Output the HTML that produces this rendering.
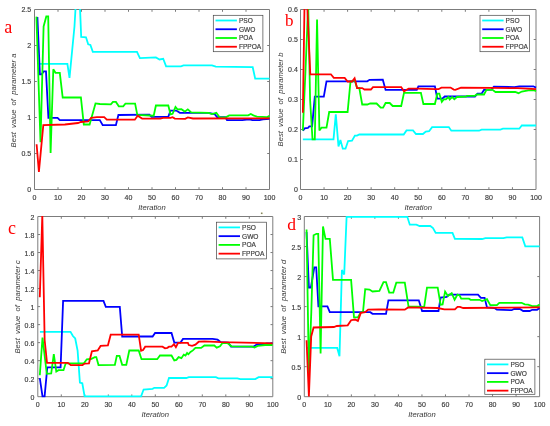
<!DOCTYPE html>
<html><head><meta charset="utf-8"><title>Parameter convergence</title>
<style>
html,body{margin:0;padding:0;background:#fff}
svg{display:block}
.t{font-family:"Liberation Sans",Arial,Helvetica,sans-serif;font-size:7px;fill:#3a3a3a;stroke:#3a3a3a;stroke-width:0.15}
.g{font-family:"Liberation Sans",Arial,Helvetica,sans-serif;font-size:6.6px;fill:#3a3a3a;stroke:#3a3a3a;stroke-width:0.15}
.l{font-family:"Liberation Sans",Arial,Helvetica,sans-serif;font-size:7.65px;font-style:italic;fill:#3a3a3a;white-space:pre}
.p{font-family:"Liberation Serif","Times New Roman",serif;font-size:18px;fill:#ff0000}
.d{fill:none;stroke-width:1.8;stroke-linejoin:miter;stroke-miterlimit:3;stroke-linecap:butt}
.ax{stroke:#7c7c7c;stroke-width:1;fill:none}
</style></head><body>
<svg width="550" height="426" viewBox="0 0 550 426">
<rect width="550" height="426" fill="#fff"/>
<g id="panel-a">
<clipPath id="cp-a"><rect x="34" y="9.1" width="236.5" height="181.4"/></clipPath>
<path class="ax" d="M34.5 9.5H269.5V189.5H34.5ZM58 189.5v-2.3M58 9.5v2.3M81.5 189.5v-2.3M81.5 9.5v2.3M105 189.5v-2.3M105 9.5v2.3M128.5 189.5v-2.3M128.5 9.5v2.3M152 189.5v-2.3M152 9.5v2.3M175.5 189.5v-2.3M175.5 9.5v2.3M199 189.5v-2.3M199 9.5v2.3M222.5 189.5v-2.3M222.5 9.5v2.3M246 189.5v-2.3M246 9.5v2.3M34.5 153.5h2.3M269.5 153.5h-2.3M34.5 117.5h2.3M269.5 117.5h-2.3M34.5 81.5h2.3M269.5 81.5h-2.3M34.5 45.5h2.3M269.5 45.5h-2.3"/>
<g clip-path="url(#cp-a)">
<polyline class="d" stroke="#00ffff" points="38.6,63.9 67.4,63.9 69.5,77.9 74.45,26.8 76.8,-13 79.15,-13 81.2,37 86,37.3 88.2,44.3 90.4,45 92.8,51.8 137,51.8 139.9,58.1 155.9,57.4 159.5,59.5 163.2,58.8 166.1,66.3 181,66.3 183.5,65.4 212,65.4 215.8,66.7 252.7,67.2 255.2,78.6 269.5,78.6"/>
<polyline class="d" stroke="#0000ff" points="37.4,17 39.9,74.3 41.5,74.3 43.8,71.4 46,71.4 48.4,117.9 57.6,117.9 59.8,120.1 99.8,120.1 102.7,125.2 115.9,125.2 118.4,115 149.4,114.7 151.5,116.9 168.3,116.9 170.5,110.6 176.3,110.6 179.9,112.8 208.5,112.8 214.5,114 217.1,117.1 225.3,117.1 227,120.2 242.2,120.2 249.1,119.3 252.5,120.2 259.5,120.2 262.9,119.3 269.5,118.8"/>
<polyline class="d" stroke="#00ff00" points="36.4,16.6 40.5,142.3 43.6,26.5 46.3,16.4 48.2,16.4 50.6,153 53.3,69.2 55.5,72.8 59.8,72.8 62.7,97.5 80.9,97.5 83.8,124.5 89.6,124.5 95.5,103.4 99.8,104 110.8,104.4 113,101.9 115.9,101.9 118.8,106.3 123.2,106.3 125.4,103.7 135.1,103.7 137.3,115 153.7,115.7 155.9,105.5 168.3,105.5 170.5,114.3 172.6,113.8 175.5,107 177.7,109.5 181.4,109.2 184.8,111.6 187.8,109.3 191.2,112.3 208.5,112.8 212,114 216.3,112.8 219.4,117.1 225.8,117.4 229.2,115.4 248.2,115.4 250.8,114 253.4,115.4 256.9,116.7 267.2,117.1 269.5,115.9"/>
<polyline class="d" stroke="#ff0000" points="36.6,144.3 38.9,171.9 43.3,125.2 64.9,124.5 78,123 80.9,122 88.2,121.5 91.1,117.9 96.9,117.2 104.2,117.2 106.8,119.7 134.8,119.7 137.7,115.7 142.1,118.6 160.3,118.6 163.2,117.9 170.5,117.9 172.6,117.2 174.8,118.6 185.2,118.8 187.8,117.4 193,118.5 269.5,118.3"/>
</g>
<text class="t" text-anchor="middle" x="34.5" y="199.9">0</text>
<text class="t" text-anchor="middle" x="58" y="199.9">10</text>
<text class="t" text-anchor="middle" x="81.5" y="199.9">20</text>
<text class="t" text-anchor="middle" x="105" y="199.9">30</text>
<text class="t" text-anchor="middle" x="128.5" y="199.9">40</text>
<text class="t" text-anchor="middle" x="152" y="199.9">50</text>
<text class="t" text-anchor="middle" x="175.5" y="199.9">60</text>
<text class="t" text-anchor="middle" x="199" y="199.9">70</text>
<text class="t" text-anchor="middle" x="222.5" y="199.9">80</text>
<text class="t" text-anchor="middle" x="246" y="199.9">90</text>
<text class="t" text-anchor="middle" x="269.5" y="199.9">100</text>
<text class="t" text-anchor="end" x="31.2" y="192">0</text>
<text class="t" text-anchor="end" x="31.2" y="156">0.5</text>
<text class="t" text-anchor="end" x="31.2" y="120">1</text>
<text class="t" text-anchor="end" x="31.2" y="84">1.5</text>
<text class="t" text-anchor="end" x="31.2" y="48">2</text>
<text class="t" text-anchor="end" x="31.2" y="12">2.5</text>
<text class="l" text-anchor="middle" x="152" y="210">Iteration</text>
<text class="l" text-anchor="middle" transform="translate(16.1 100.5) rotate(-90)">Best  value  of  parameter a</text>
<text class="p" style="font-size:18px" x="4.2" y="32.5">a</text>
<rect x="213.3" y="15.3" width="49.6" height="36.4" fill="#fff" stroke="#444" stroke-width="0.7"/>
<path class="d" stroke="#00ffff" d="M215.5 20.5H236.9"/>
<text class="g" x="238.9" y="22.9">PSO</text>
<path class="d" stroke="#0000ff" d="M215.5 29.25H236.9"/>
<text class="g" x="238.9" y="31.65">GWO</text>
<path class="d" stroke="#00ff00" d="M215.5 38H236.9"/>
<text class="g" x="238.9" y="40.4">POA</text>
<path class="d" stroke="#ff0000" d="M215.5 46.75H236.9"/>
<text class="g" x="238.9" y="49.15">FPPOA</text>
</g>
<g id="panel-b">
<clipPath id="cp-b"><rect x="300" y="9.1" width="237" height="181.4"/></clipPath>
<path class="ax" d="M300.5 9.5H536V189.5H300.5ZM324.05 189.5v-2.3M324.05 9.5v2.3M347.6 189.5v-2.3M347.6 9.5v2.3M371.15 189.5v-2.3M371.15 9.5v2.3M394.7 189.5v-2.3M394.7 9.5v2.3M418.25 189.5v-2.3M418.25 9.5v2.3M441.8 189.5v-2.3M441.8 9.5v2.3M465.35 189.5v-2.3M465.35 9.5v2.3M488.9 189.5v-2.3M488.9 9.5v2.3M512.45 189.5v-2.3M512.45 9.5v2.3M300.5 159.5h2.3M536 159.5h-2.3M300.5 129.5h2.3M536 129.5h-2.3M300.5 99.5h2.3M536 99.5h-2.3M300.5 69.5h2.3M536 69.5h-2.3M300.5 39.5h2.3M536 39.5h-2.3"/>
<g clip-path="url(#cp-b)">
<polyline class="d" stroke="#00ffff" points="302.85,139.3 333.5,139.3 335.8,114.3 338.5,146.5 340.4,140 342.8,148.7 345.5,148.7 348.1,141 352,140.7 354.9,135.6 357,135.6 359.3,134.5 403.7,134.5 406.5,130.4 413,130.4 416,134 422.9,134 425.8,131.5 429.1,131.2 432.1,127.1 448.8,127.1 451.3,130.7 479.1,130.7 481.6,129.6 500.4,129.6 502.9,128.7 519.3,128.7 521.8,125.5 536,125.5"/>
<polyline class="d" stroke="#0000ff" points="303,130.8 304.7,128.3 307.9,128 309.3,126.4 312.1,126.4 314.8,96.6 323.8,96.6 326.5,81.3 367.3,81.3 369.5,79.8 382.8,79.7 385.6,89.9 416.8,89.9 418.4,86.3 434.9,86.3 437.3,98.6 442.3,98.6 444.7,96.5 475,96.5 477.5,93.7 481.6,93.7 484,89.9 491.4,89.6 493.9,86.6 514.4,87.1 519.3,86.3 533.3,86.3 536,87.6"/>
<polyline class="d" stroke="#00ff00" points="302.85,130.5 305.6,68 308.2,4 310.1,100 312.5,139.3 314.8,139.3 317.05,19.5 319.4,130.5 321.5,127.6 326.5,127.6 329.2,112 347.6,112 350.5,81.5 352,81.5 354.6,80 357.1,88.1 359.3,88.1 362.2,104.5 367.3,104.5 370.2,103.4 376.6,103.5 380.7,107.6 383.1,107.6 385.6,103 389.7,103 392.7,106 401.2,106 404,92.8 420.9,92.8 423.4,104 434.9,104 437.3,93.7 439.3,93.7 441.8,101.9 443.9,99.1 445.9,99.4 448.5,97 449.7,99.4 452.1,97 454.3,99.3 456.9,97 466,96.5 467,95.8 475,95.8 476.6,94.5 484,94.5 486.5,89.9 492.2,89.6 495.5,92 515.2,92 518.5,93.2 521.8,91.5 528.4,90.4 534.1,90.1 536,91.2"/>
<polyline class="d" stroke="#ff0000" points="302.85,112.8 305.2,-40 310.3,74.3 330.9,74.3 333.8,77.9 344.7,77.9 347.6,81.5 352,81.5 354.6,78.3 357.1,88.1 362.2,88.1 364.4,89.5 370.9,89.5 373,87.1 401.2,87.1 404,91.2 408.6,88.7 417.6,88.7 435.7,89.2 438.5,89.2 441.4,87.6 450.5,87.6 453.8,89.6 455.3,89.9 461,87.6 493,87.9 517.7,88.2 536,89.2"/>
</g>
<text class="t" text-anchor="middle" x="300.5" y="199.9">0</text>
<text class="t" text-anchor="middle" x="324.05" y="199.9">10</text>
<text class="t" text-anchor="middle" x="347.6" y="199.9">20</text>
<text class="t" text-anchor="middle" x="371.15" y="199.9">30</text>
<text class="t" text-anchor="middle" x="394.7" y="199.9">40</text>
<text class="t" text-anchor="middle" x="418.25" y="199.9">50</text>
<text class="t" text-anchor="middle" x="441.8" y="199.9">60</text>
<text class="t" text-anchor="middle" x="465.35" y="199.9">70</text>
<text class="t" text-anchor="middle" x="488.9" y="199.9">80</text>
<text class="t" text-anchor="middle" x="512.45" y="199.9">90</text>
<text class="t" text-anchor="middle" x="536" y="199.9">100</text>
<text class="t" text-anchor="end" x="297.8" y="192">0</text>
<text class="t" text-anchor="end" x="297.8" y="162">0.1</text>
<text class="t" text-anchor="end" x="297.8" y="132">0.2</text>
<text class="t" text-anchor="end" x="297.8" y="102">0.3</text>
<text class="t" text-anchor="end" x="297.8" y="72">0.4</text>
<text class="t" text-anchor="end" x="297.8" y="42">0.5</text>
<text class="t" text-anchor="end" x="297.8" y="12">0.6</text>
<text class="l" text-anchor="middle" x="418.25" y="210">Iteration</text>
<text class="l" text-anchor="middle" transform="translate(283.4 99.5) rotate(-90)">Best  value  of  parameter b</text>
<text class="p" style="font-size:17px" x="285.1" y="25.6">b</text>
<rect x="480" y="15.3" width="49.6" height="36.4" fill="#fff" stroke="#444" stroke-width="0.7"/>
<path class="d" stroke="#00ffff" d="M482.2 20.5H503.6"/>
<text class="g" x="505.6" y="22.9">PSO</text>
<path class="d" stroke="#0000ff" d="M482.2 29.25H503.6"/>
<text class="g" x="505.6" y="31.65">GWO</text>
<path class="d" stroke="#00ff00" d="M482.2 38H503.6"/>
<text class="g" x="505.6" y="40.4">POA</text>
<path class="d" stroke="#ff0000" d="M482.2 46.75H503.6"/>
<text class="g" x="505.6" y="49.15">FPPOA</text>
</g>
<g id="panel-c">
<clipPath id="cp-c"><rect x="37.3" y="216.1" width="236.5" height="181.6"/></clipPath>
<path class="ax" d="M37.8 216.5H272.8V396.7H37.8ZM61.3 396.7v-2.3M61.3 216.5v2.3M84.8 396.7v-2.3M84.8 216.5v2.3M108.3 396.7v-2.3M108.3 216.5v2.3M131.8 396.7v-2.3M131.8 216.5v2.3M155.3 396.7v-2.3M155.3 216.5v2.3M178.8 396.7v-2.3M178.8 216.5v2.3M202.3 396.7v-2.3M202.3 216.5v2.3M225.8 396.7v-2.3M225.8 216.5v2.3M249.3 396.7v-2.3M249.3 216.5v2.3M37.8 378.68h2.3M272.8 378.68h-2.3M37.8 360.66h2.3M272.8 360.66h-2.3M37.8 342.64h2.3M272.8 342.64h-2.3M37.8 324.62h2.3M272.8 324.62h-2.3M37.8 306.6h2.3M272.8 306.6h-2.3M37.8 288.58h2.3M272.8 288.58h-2.3M37.8 270.56h2.3M272.8 270.56h-2.3M37.8 252.54h2.3M272.8 252.54h-2.3M37.8 234.52h2.3M272.8 234.52h-2.3"/>
<g clip-path="url(#cp-c)">
<polyline class="d" stroke="#00ffff" points="39.95,331.9 70.5,331.9 72.9,336 75.2,338.5 77.6,350.5 79.9,382.5 82.3,383.3 84.6,396.4 141.1,396.4 143.6,389.5 152.6,388.8 154.3,387.8 164.1,387.8 166.6,385.5 169,378 186.3,378 188.8,377.1 215.9,377.2 218.4,378.3 237.3,378.3 240.2,379.1 255.3,379.1 258.6,377.2 272.6,377.2"/>
<polyline class="d" stroke="#0000ff" points="39.8,378.2 42.5,396.4 44.6,396.4 47.3,367.3 60.6,367.3 63.1,300.9 103.5,300.9 105.8,306.9 119.8,306.9 122.2,336.5 152.6,336.5 155.1,333 171.5,333 174.3,342.6 180.5,342.6 183,338.9 212.6,338.9 217.6,339.7 220.8,342.2 228.2,342.7 231,346.6 253.7,346.6 257,344.3 263.5,344.3 266.8,343.3 272.6,343.3"/>
<polyline class="d" stroke="#00ff00" points="39.8,375.3 42.5,337.5 46.8,373.8 51.2,373.5 53.8,354.2 56.3,371.6 58.5,370.2 63.5,370.2 65.7,363.3 83.9,363.3 86.8,359.3 91,359 94.8,357.1 96.3,357.1 98.5,365.1 114.9,364.8 116.8,355.9 119.5,355.9 122.2,364.8 126.3,364.8 129.3,350.5 138.7,350.5 141.5,359.2 157.2,359.2 160,355.5 171.5,355.5 174.3,360.4 176.4,359.9 178.6,357.1 181.4,358.2 183.8,354.6 185.5,355.5 187.1,353 188.4,354.3 190.5,352 192.9,350.4 195.4,347.9 201.1,347.9 204.4,345.5 214.3,345.5 216.7,347.6 220,346.3 222.5,343 227.4,343 231.5,346.3 252.1,346.6 254.5,347.6 257.8,345.9 265.2,345 272.6,345"/>
<polyline class="d" stroke="#ff0000" points="39.8,297.3 42.3,215 44.65,340 47,362.9 67.9,362.9 70.8,365.1 82.5,365.1 84.6,363.6 89,363.3 91.9,351.3 97.7,350.5 100.6,345.9 107.9,345.5 110.7,334.7 138.7,334.7 141.1,350.8 143.1,350 145.2,346.7 162.5,346.7 165,348.3 167.4,347.8 169,346.7 171.5,346.7 174,344.2 175.9,347.2 178.1,342.9 187.9,342.9 188.8,345 192.1,345.9 195.4,344.6 198.7,341.7 204.4,341.3 220.8,342.2 272.6,343.3"/>
</g>
<text class="t" text-anchor="middle" x="37.8" y="407.1">0</text>
<text class="t" text-anchor="middle" x="61.3" y="407.1">10</text>
<text class="t" text-anchor="middle" x="84.8" y="407.1">20</text>
<text class="t" text-anchor="middle" x="108.3" y="407.1">30</text>
<text class="t" text-anchor="middle" x="131.8" y="407.1">40</text>
<text class="t" text-anchor="middle" x="155.3" y="407.1">50</text>
<text class="t" text-anchor="middle" x="178.8" y="407.1">60</text>
<text class="t" text-anchor="middle" x="202.3" y="407.1">70</text>
<text class="t" text-anchor="middle" x="225.8" y="407.1">80</text>
<text class="t" text-anchor="middle" x="249.3" y="407.1">90</text>
<text class="t" text-anchor="middle" x="272.8" y="407.1">100</text>
<text class="t" text-anchor="end" x="34.3" y="399.8">0</text>
<text class="t" text-anchor="end" x="34.3" y="381.78">0.2</text>
<text class="t" text-anchor="end" x="34.3" y="363.76">0.4</text>
<text class="t" text-anchor="end" x="34.3" y="345.74">0.6</text>
<text class="t" text-anchor="end" x="34.3" y="327.72">0.8</text>
<text class="t" text-anchor="end" x="34.3" y="309.7">1</text>
<text class="t" text-anchor="end" x="34.3" y="291.68">1.2</text>
<text class="t" text-anchor="end" x="34.3" y="273.66">1.4</text>
<text class="t" text-anchor="end" x="34.3" y="255.64">1.6</text>
<text class="t" text-anchor="end" x="34.3" y="237.62">1.8</text>
<text class="t" text-anchor="end" x="34.3" y="219.6">2</text>
<text class="l" text-anchor="middle" x="155.3" y="417.2">Iteration</text>
<text class="l" text-anchor="middle" transform="translate(19.7 306.8) rotate(-90)">Best  value  of  parameter c</text>
<text class="p" style="font-size:18px" x="8" y="233.5">c</text>
<rect x="216.4" y="222.2" width="50.1" height="36.7" fill="#fff" stroke="#444" stroke-width="0.7"/>
<path class="d" stroke="#00ffff" d="M218.6 227.4H240"/>
<text class="g" x="242" y="229.8">PSO</text>
<path class="d" stroke="#0000ff" d="M218.6 236.15H240"/>
<text class="g" x="242" y="238.55">GWO</text>
<path class="d" stroke="#00ff00" d="M218.6 244.9H240"/>
<text class="g" x="242" y="247.3">POA</text>
<path class="d" stroke="#ff0000" d="M218.6 253.65H240"/>
<text class="g" x="242" y="256.05">FPPOA</text>
</g>
<g id="panel-d">
<clipPath id="cp-d"><rect x="303.8" y="215.5" width="236.8" height="182.2"/></clipPath>
<path class="ax" d="M304.3 216.5H539.6V396.7H304.3ZM327.83 396.7v-2.3M327.83 216.5v2.3M351.36 396.7v-2.3M351.36 216.5v2.3M374.89 396.7v-2.3M374.89 216.5v2.3M398.42 396.7v-2.3M398.42 216.5v2.3M421.95 396.7v-2.3M421.95 216.5v2.3M445.48 396.7v-2.3M445.48 216.5v2.3M469.01 396.7v-2.3M469.01 216.5v2.3M492.54 396.7v-2.3M492.54 216.5v2.3M516.07 396.7v-2.3M516.07 216.5v2.3M304.3 366.67h2.3M539.6 366.67h-2.3M304.3 336.63h2.3M539.6 336.63h-2.3M304.3 306.6h2.3M539.6 306.6h-2.3M304.3 276.57h2.3M539.6 276.57h-2.3M304.3 246.53h2.3M539.6 246.53h-2.3"/>
<g clip-path="url(#cp-d)">
<polyline class="d" stroke="#00ffff" points="306.55,347.9 337.2,347.9 339.5,356.2 341.9,270 344.2,274.5 346.6,216.8 407.3,216.8 409.8,224.7 416.3,224.7 419.6,226 430.3,226 433,228 435.7,232.9 452.5,232.9 454.9,238.9 482.1,239 485.4,238.2 503.4,238.2 506.7,237.4 522.3,237.4 525.3,246.4 539.6,246.4"/>
<polyline class="d" stroke="#0000ff" points="306.55,232 308.9,287.5 310.9,287.5 314.3,267.3 316.2,267.3 318.4,306.4 327.4,306.4 329.8,312.2 370.3,312.2 372.5,313.8 386,313.9 388.4,300.3 418.8,300.3 422.1,311 438.5,311 440.6,297.5 446.7,297 449.2,294.6 478,294.6 480.9,297.8 484.6,297.8 487,307.4 494.4,308 496.9,309.7 511.7,310.2 514.1,309 519.9,309 523.2,311 529.7,311 532.2,309.8 537.1,309.8 539.6,308"/>
<polyline class="d" stroke="#00ff00" points="306.55,229.5 308.9,375 311.3,312 313.6,235.3 316.5,233.8 318.2,233.8 320.6,353.4 323,226.5 325.5,238.9 329.8,238.9 333,279.9 351.1,279.9 354,317.3 357.9,317.3 360.7,312.5 363,312 365.2,289.2 369.5,289.6 372.5,291.5 379.4,291 383.5,282.2 386,282.2 389.2,292.6 393.3,292.6 396.3,282.7 404.8,282.7 408.5,306.4 424.2,306.9 427,287.7 437.7,287.7 440.6,304.7 442.6,304.4 445.1,291.6 447.9,296 451.7,293.2 454.6,299.8 457.5,294.6 459.6,295.4 461.2,298.7 469,298.7 470.6,299.8 479.6,299.8 482.1,301.1 487,299.2 490.3,305.2 496.9,305.2 499.3,302.8 521.5,302.8 524.8,304.4 528.1,304.7 532.2,306.1 537.1,306.1 539.6,304.4"/>
<polyline class="d" stroke="#ff0000" points="306.55,340.2 308.9,396.5 311.2,336.5 313.6,327.5 333.9,327 336.8,326 347.7,325.3 351.1,320.2 355,319.5 357.9,320.9 360.8,312.9 365.2,312.2 368.1,309.6 379,309.5 404.8,309.7 408.1,307.4 437.7,308 444.3,309.3 454.9,309.3 457.5,306.9 459.9,306.9 463.2,308 539.6,307.4"/>
</g>
<text class="t" text-anchor="middle" x="304.3" y="407.1">0</text>
<text class="t" text-anchor="middle" x="327.83" y="407.1">10</text>
<text class="t" text-anchor="middle" x="351.36" y="407.1">20</text>
<text class="t" text-anchor="middle" x="374.89" y="407.1">30</text>
<text class="t" text-anchor="middle" x="398.42" y="407.1">40</text>
<text class="t" text-anchor="middle" x="421.95" y="407.1">50</text>
<text class="t" text-anchor="middle" x="445.48" y="407.1">60</text>
<text class="t" text-anchor="middle" x="469.01" y="407.1">70</text>
<text class="t" text-anchor="middle" x="492.54" y="407.1">80</text>
<text class="t" text-anchor="middle" x="516.07" y="407.1">90</text>
<text class="t" text-anchor="middle" x="539.6" y="407.1">100</text>
<text class="t" text-anchor="end" x="301.2" y="399.8">0</text>
<text class="t" text-anchor="end" x="301.2" y="369.77">0.5</text>
<text class="t" text-anchor="end" x="301.2" y="339.73">1</text>
<text class="t" text-anchor="end" x="301.2" y="309.7">1.5</text>
<text class="t" text-anchor="end" x="301.2" y="279.67">2</text>
<text class="t" text-anchor="end" x="301.2" y="249.63">2.5</text>
<text class="t" text-anchor="end" x="301.2" y="219.6">3</text>
<text class="l" text-anchor="middle" x="421.95" y="417.2">Iteration</text>
<text class="l" text-anchor="middle" transform="translate(286.4 306.8) rotate(-90)">Best  value  of  parameter d</text>
<text class="p" style="font-size:17.5px" x="287.3" y="229.5">d</text>
<rect x="484.8" y="359.2" width="50.1" height="35.1" fill="#fff" stroke="#444" stroke-width="0.7"/>
<path class="d" stroke="#00ffff" d="M487 364.4H508.4"/>
<text class="g" x="510.4" y="366.8">PSO</text>
<path class="d" stroke="#0000ff" d="M487 373.15H508.4"/>
<text class="g" x="510.4" y="375.55">GWO</text>
<path class="d" stroke="#00ff00" d="M487 381.9H508.4"/>
<text class="g" x="510.4" y="384.3">POA</text>
<path class="d" stroke="#ff0000" d="M487 390.65H508.4"/>
<text class="g" x="510.4" y="393.05">FPPOA</text>
</g>
<circle cx="261.8" cy="213.2" r="1.3" fill="#f4f4d8"/><circle cx="261.8" cy="213.3" r="0.7" fill="#5a5a40"/>
</svg>
</body></html>
